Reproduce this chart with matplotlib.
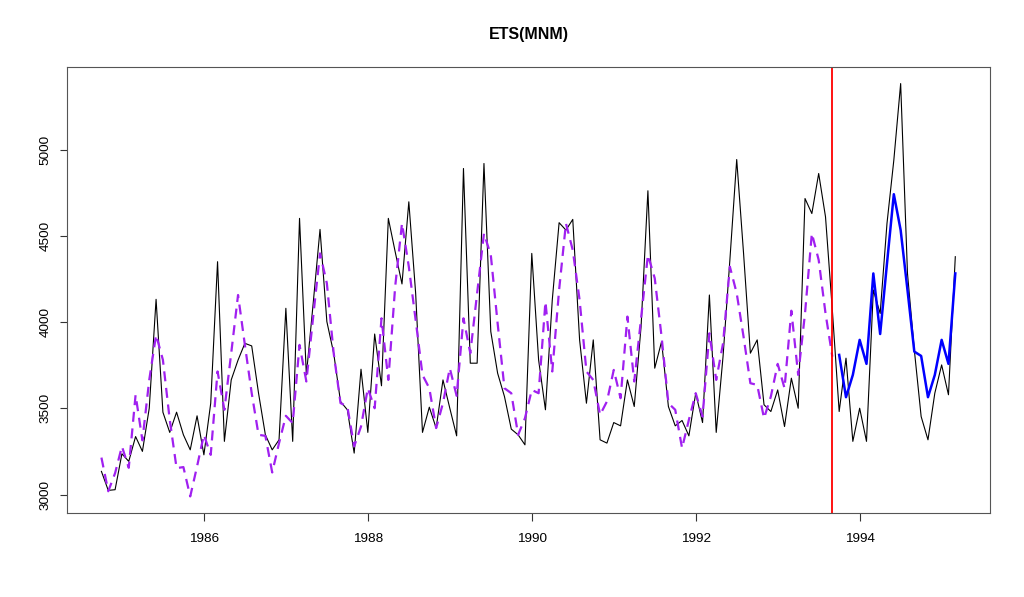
import numpy as np
import matplotlib
matplotlib.use("Agg")
import matplotlib.pyplot as plt

# monthly series, starts Oct 1984
start_year = 1984.75
fc_start = 108  # first forecast month (Oct 1993)

actual = [3135, 3025, 3029, 3237, 3193, 3337, 3251, 3501, 4132, 3478,
          3361, 3478, 3347, 3260, 3457, 3231, 3530, 4350, 3309, 3665,
          3780, 3877, 3862, 3588, 3347, 3260, 3318, 4080, 3309, 4601,
          3694, 4109, 4537, 4003, 3820, 3540, 3492, 3241, 3727, 3361,
          3931, 3631, 4601, 4408, 4221, 4697, 4167, 3361, 3507, 3386,
          3665, 3501, 3341, 4890, 3762, 3762, 4919, 3945, 3704, 3569,
          3380, 3347, 3289, 4398, 3781, 3492, 4128, 4576, 4533, 4595,
          3897, 3530, 3897, 3318, 3299, 3418, 3399, 3665, 3511, 3974,
          4761, 3733, 3887, 3511, 3399, 3430, 3341, 3588, 3418, 4157,
          3361, 3801, 4360, 4942, 4400, 3820, 3897, 3521, 3482, 3607,
          3395, 3675, 3501, 4716, 4629, 4861, 4610, 4070, 3482, 3791,
          3309, 3501, 3309, 4186, 4050, 4572, 4938, 5382, 4282, 3839,
          3453, 3318, 3588, 3752, 3579, 4379]

fitted = [3215, 3020, 3125, 3280, 3156, 3578, 3315, 3665, 3926, 3781,
          3434, 3154, 3160, 2990, 3164, 3347, 3231, 3714, 3492, 3820,
          4157, 3868, 3588, 3347, 3341, 3129, 3299, 3457, 3415, 3868,
          3656, 4032, 4398, 4225, 3820, 3531, 3511, 3280, 3395, 3617,
          3501, 4022, 3665, 4205, 4572, 4321, 4012, 3694, 3617, 3386,
          3531, 3733, 3573, 4022, 3820, 4167, 4514, 4389, 3993, 3617,
          3588, 3347, 3443, 3607, 3588, 4118, 3714, 4186, 4572, 4417,
          4128, 3714, 3665, 3463, 3540, 3723, 3559, 4032, 3656, 4022,
          4389, 4254, 3916, 3530, 3492, 3270, 3434, 3588, 3453, 3935,
          3665, 3877, 4321, 4167, 3916, 3646, 3636, 3443, 3569, 3758,
          3617, 4066, 3694, 4051, 4514, 4360, 4051, 3800]

forecast = [3810, 3565, 3694, 3897, 3758, 4282, 3931, 4340, 4741, 4533,
            4186, 3829, 3804, 3565, 3694, 3897, 3758, 4282]

t = start_year + np.arange(len(actual)) / 12
t_fit = t[:len(fitted)]
t_fc = t[fc_start:fc_start + len(forecast)]
split = t[len(fitted) - 1]

plt.rcParams['font.family'] = ['Liberation Sans', 'DejaVu Sans']

fig = plt.figure(figsize=(10.24, 5.97), dpi=100)
ax = fig.add_axes([67 / 1024, 1 - 513 / 597, 923 / 1024, 446 / 597])

ax.plot(t, actual, color='black', lw=0.8)
ax.plot(t_fit, fitted, color='#A020F0', lw=1.6, dashes=(4.5, 3))
ax.plot(t_fc, forecast, color='#0000FF', lw=1.8)
ax.axvline(split, color='#FF0000', lw=1.3)

ax.set_xlim(1984.33, 1995.59)
ax.set_ylim(2894, 5478)
ax.set_xticks([1986, 1988, 1990, 1992, 1994])
ax.set_yticks([3000, 3500, 4000, 4500, 5000])
ax.tick_params(direction='out', length=5.4, width=0.8, colors='#333333',
               labelsize=9.7, labelcolor='black')
ax.tick_params(axis='x', pad=9)
ax.tick_params(axis='y', pad=5.5)
for lbl in ax.get_yticklabels():
    lbl.set_rotation(90)
    lbl.set_va('center')
for s in ax.spines.values():
    s.set_color('#555555')
    s.set_linewidth(0.8)

fig.text(528.5 / 1024, 1 - 34 / 597, 'ETS(MNM)', ha='center', va='center',
         fontsize=11.5, fontweight='bold')

fig.savefig('out.png', dpi=100)
